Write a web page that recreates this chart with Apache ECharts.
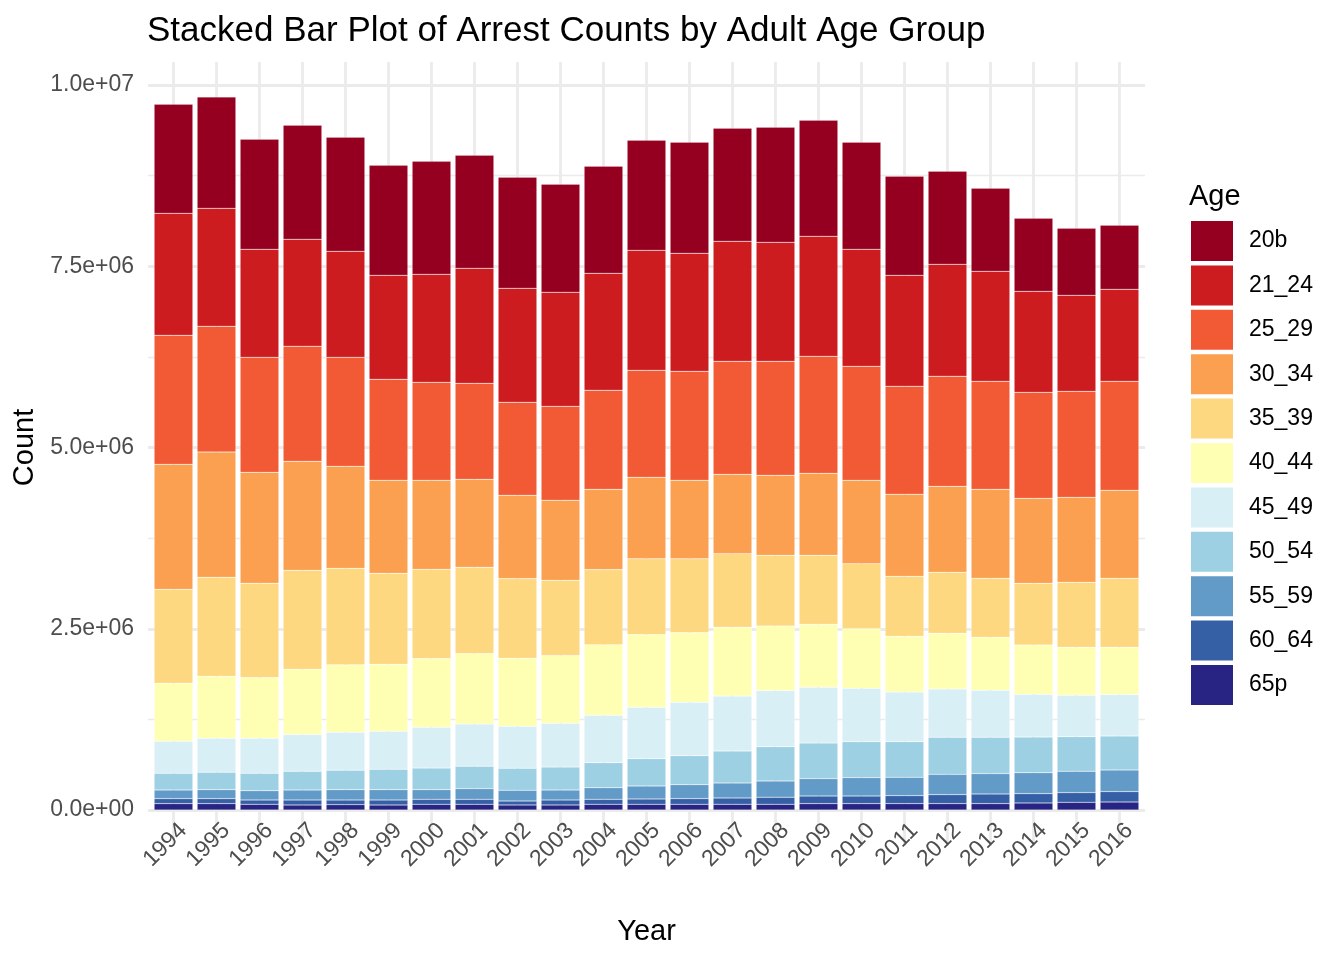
<!DOCTYPE html>
<html>
<head>
<meta charset="utf-8">
<script src="https://cdn.jsdelivr.net/npm/echarts@6/dist/echarts.min.js"></script>
<style>
html, body { margin: 0; background: #fff; }
#chart { width: 1344px; height: 960px; }
</style>
</head>
<body>
<div id="chart"></div>
<script>
const years = ['1994', '1995', '1996', '1997', '1998', '1999', '2000', '2001', '2002', '2003', '2004', '2005',
  '2006', '2007', '2008', '2009', '2010', '2011', '2012', '2013', '2014', '2015', '2016']

// counts per age group
const age65p = [88000, 88000, 79000, 69000, 74000, 69000, 79000, 79000, 69000, 69000, 79000, 79000,
  79000, 79000, 79000, 88000, 88000, 88000, 88000, 88000, 97000, 106000, 110000]
const age60_64 = [69000, 69000, 59000, 69000, 64000, 69000, 68000, 68000, 55000, 69000, 68000, 73000,
  78000, 87000, 98000, 105000, 105000, 110000, 124000, 133000, 129000, 134000, 144000]
const age55_59 = [119000, 124000, 129000, 138000, 143000, 143000, 134000, 148000, 148000, 138000, 161000, 179000,
  193000, 207000, 223000, 240000, 254000, 253000, 280000, 281000, 289000, 294000, 298000]
const age50_54 = [230000, 239000, 239000, 258000, 267000, 280000, 297000, 308000, 303000, 317000, 345000, 377000,
  400000, 441000, 474000, 491000, 496000, 492000, 511000, 501000, 492000, 478000, 469000]
const age45_49 = [442000, 469000, 483000, 506000, 524000, 525000, 563000, 583000, 580000, 603000, 653000, 708000,
  736000, 758000, 773000, 768000, 736000, 685000, 666000, 648000, 589000, 570000, 571000]
const age40_44 = [800000, 855000, 837000, 901000, 933000, 924000, 947000, 971000, 937000, 934000, 975000, 1003000,
  961000, 948000, 891000, 869000, 823000, 768000, 768000, 731000, 680000, 662000, 652000]
const age35_39 = [1296000, 1366000, 1302000, 1365000, 1329000, 1255000, 1232000, 1191000, 1100000, 1038000, 1035000, 1048000,
  1020000, 1016000, 975000, 952000, 896000, 827000, 842000, 814000, 851000, 897000, 952000]
const age30_34 = [1724000, 1728000, 1530000, 1504000, 1407000, 1283000, 1228000, 1213000, 1149000, 1104000, 1107000, 1122000,
  1081000, 1094000, 1104000, 1131000, 1150000, 1132000, 1186000, 1227000, 1172000, 1172000, 1214000]
const age25_29 = [1780000, 1734000, 1586000, 1587000, 1503000, 1393000, 1351000, 1324000, 1283000, 1296000, 1367000, 1476000,
  1503000, 1559000, 1572000, 1614000, 1572000, 1490000, 1518000, 1490000, 1462000, 1462000, 1503000]
const age21_24 = [1682000, 1627000, 1490000, 1475000, 1462000, 1434000, 1490000, 1587000, 1572000, 1573000, 1613000, 1655000,
  1628000, 1655000, 1641000, 1655000, 1614000, 1530000, 1544000, 1517000, 1393000, 1324000, 1269000]
const age20b = [1504000, 1535000, 1517000, 1572000, 1573000, 1517000, 1558000, 1558000, 1531000, 1490000, 1476000, 1517000,
  1531000, 1559000, 1587000, 1600000, 1476000, 1366000, 1283000, 1145000, 1007000, 924000, 883000]

// bottom to top
const groups = ['65p', '60_64', '55_59', '50_54', '45_49', '40_44', '35_39', '30_34', '25_29', '21_24', '20b']
const groupData = [age65p, age60_64, age55_59, age50_54, age45_49, age40_44, age35_39, age30_34, age25_29, age21_24, age20b]
const colors = ['#272484', '#3660a5', '#639bc8', '#9dd0e3', '#d9eff6', '#ffffb3', '#fdd880', '#fba050', '#f15a35', '#cc1c1f', '#950020']

const font = "'Liberation Sans', Arial, sans-serif"
const grid = '#ebebeb'

let series = groups.map((g, i) => {
  return {
    name: g,
    type: 'bar',
    stack: 'all',
    xAxisIndex: 0,
    yAxisIndex: 0,
    barWidth: '90%',
    itemStyle: {
      color: colors[i],
      borderColor: 'rgba(255,255,255,0.4)',
      borderWidth: 0.5
    },
    emphasis: { disabled: true },
    data: groupData[i]
  }
})

let option = {
  animation: false,
  textStyle: { fontFamily: font },
  title: [{
    text: 'Stacked Bar Plot of Arrest Counts by Adult Age Group',
    left: 142,
    top: 9,
    textStyle: { fontSize: 35, fontWeight: 'normal', color: '#000', fontFamily: font }
  }, {
    text: 'Age',
    left: 1184,
    top: 177,
    textStyle: { fontSize: 29, fontWeight: 'normal', color: '#000', fontFamily: font }
  }],
  legend: {
    orient: 'vertical',
    left: 1186,
    top: 216,
    itemWidth: 42,
    itemHeight: 40,
    itemGap: 4.4,
    icon: 'rect',
    data: groups.slice().reverse(),
    itemStyle: { borderWidth: 0 },
    textStyle: { fontSize: 23, color: '#000', fontFamily: font, padding: [0, 0, 0, 11] }
  },
  grid: [{
    // bars, one band per year (ggplot keeps 0.6 band of padding at the ends)
    left: 152, right: 203, top: 85, bottom: 150
  }, {
    // vertical grid lines, full panel height
    left: 173.5, width: 946, top: 62, bottom: 114
  }, {
    // horizontal grid lines + y labels, full panel width
    left: 148, right: 199, top: 85, bottom: 150
  }],
  xAxis: [{
    type: 'category',
    gridIndex: 0,
    data: years,
    name: 'Year',
    nameLocation: 'middle',
    nameGap: 107,
    nameTextStyle: { fontSize: 29, color: '#000', fontFamily: font },
    axisLine: { show: false },
    axisTick: { show: false },
    splitLine: { show: false },
    axisLabel: {
      interval: 0,
      rotate: 45,
      margin: 7,
      verticalAlign: 'top',
      lineHeight: 28,
      fontSize: 23,
      color: '#4d4d4d',
      fontFamily: font
    }
  }, {
    type: 'category',
    gridIndex: 1,
    data: years,
    boundaryGap: false,
    axisLine: { show: false },
    axisTick: { show: false },
    axisLabel: { show: false },
    splitLine: { show: true, interval: 0, lineStyle: { color: grid, width: 2.8 } }
  }, {
    type: 'value',
    gridIndex: 2,
    min: 0,
    max: 1,
    show: false
  }],
  yAxis: [{
    type: 'value',
    gridIndex: 0,
    min: 0,
    max: 10000000,
    show: false
  }, {
    type: 'value',
    gridIndex: 1,
    min: 0,
    max: 1,
    show: false
  }, {
    type: 'value',
    gridIndex: 2,
    min: 0,
    max: 10000000,
    interval: 2500000,
    name: 'Count',
    nameLocation: 'middle',
    nameGap: 87,
    nameTextStyle: { fontSize: 29, color: '#000', fontFamily: font },
    axisLine: { show: false },
    axisTick: { show: false },
    axisLabel: {
      margin: 14,
      fontSize: 23,
      color: '#4d4d4d',
      fontFamily: font,
      formatter: (v) => v.toExponential(1).replace(/e([+-])(\d)$/, (m, s, d) => 'e' + s + '0' + d)
    },
    splitLine: { show: true, lineStyle: { color: grid, width: 2.8 } },
    minorTick: { show: false, splitNumber: 2 },
    minorSplitLine: { show: true, lineStyle: { color: grid, width: 1.4 } }
  }],
  series: series
}

let myChart = echarts.init(document.getElementById('chart'))
myChart.setOption(option)
</script>
</body>
</html>
